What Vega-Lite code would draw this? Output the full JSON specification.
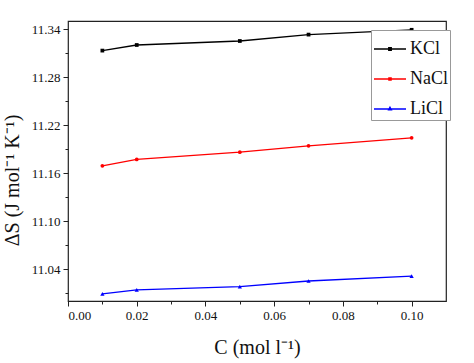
{
  "$schema": "https://vega.github.io/schema/vega-lite/v6.json",
  "width": 378,
  "height": 280,
  "autosize": {"type": "none"},
  "padding": {"left": 68, "top": 21, "right": 28, "bottom": 62},
  "background": "white",
  "config": {
    "font": "Liberation Serif",
    "view": {"stroke": "#222", "strokeWidth": 1.2},
    "axis": {
      "grid": false,
      "domain": false,
      "tickColor": "#222"
    }
  },
  "data": {
    "values": [
      {"salt": "KCl", "C": 0.01, "dS": 11.313},
      {"salt": "KCl", "C": 0.02, "dS": 11.320},
      {"salt": "KCl", "C": 0.05, "dS": 11.325},
      {"salt": "KCl", "C": 0.07, "dS": 11.333},
      {"salt": "KCl", "C": 0.10, "dS": 11.339},
      {"salt": "NaCl", "C": 0.01, "dS": 11.169},
      {"salt": "NaCl", "C": 0.02, "dS": 11.177},
      {"salt": "NaCl", "C": 0.05, "dS": 11.186},
      {"salt": "NaCl", "C": 0.07, "dS": 11.194},
      {"salt": "NaCl", "C": 0.10, "dS": 11.204},
      {"salt": "LiCl", "C": 0.01, "dS": 11.009},
      {"salt": "LiCl", "C": 0.02, "dS": 11.014},
      {"salt": "LiCl", "C": 0.05, "dS": 11.018},
      {"salt": "LiCl", "C": 0.07, "dS": 11.025},
      {"salt": "LiCl", "C": 0.10, "dS": 11.031}
    ]
  },
  "encoding": {
    "x": {
      "field": "C",
      "type": "quantitative",
      "scale": {"domain": [0, 0.11], "nice": false, "zero": false},
      "axis": {
        "title": "C (mol l⁻¹)",
        "values": [0, 0.01, 0.02, 0.03, 0.04, 0.05, 0.06, 0.07, 0.08, 0.09, 0.1],
        "labelExpr": "round(datum.value*100) % 2 == 0 ? format(datum.value, '.2f') : ''",
        "tickSize": {"condition": {"test": "round(datum.value*100) % 2 == 0", "value": 5}, "value": 3},
        "labelFont": "Liberation Serif",
        "titleFont": "Liberation Serif",
        "labelFontSize": 13,
        "labelColor": "#111",
        "titleFontWeight": "normal",
        "titleFontSize": 20,
        "titleColor": "#111",
        "labelPadding": 3,
        "titlePadding": 15
      }
    },
    "y": {
      "field": "dS",
      "type": "quantitative",
      "scale": {"domain": [11.0, 11.35], "nice": false, "zero": false},
      "axis": {
        "title": "ΔS (J mol⁻¹ K⁻¹)",
        "values": [11.01, 11.04, 11.07, 11.10, 11.13, 11.16, 11.19, 11.22, 11.25, 11.28, 11.31, 11.34],
        "labelExpr": "round(datum.value*100) % 6 == 0 ? format(datum.value, '.2f') : ''",
        "tickSize": {"condition": {"test": "round(datum.value*100) % 6 == 0", "value": 5}, "value": 3},
        "labelFont": "Liberation Serif",
        "titleFont": "Liberation Serif",
        "labelFontSize": 13,
        "labelColor": "#111",
        "titleFontWeight": "normal",
        "titleFontSize": 20,
        "titleColor": "#111",
        "titleY": 159,
        "labelPadding": 3,
        "titlePadding": 9
      }
    },
    "color": {
      "field": "salt",
      "type": "nominal",
      "scale": {"domain": ["KCl", "NaCl", "LiCl"], "range": ["#000000", "#ff0000", "#0000ff"]}
    }
  },
  "layer": [
    {
      "mark": {"type": "line", "strokeWidth": 1.3},
      "encoding": {
        "color": {
          "field": "salt",
          "type": "nominal",
          "scale": {"domain": ["KCl", "NaCl", "LiCl"], "range": ["#000000", "#ff0000", "#0000ff"]},
          "legend": {
            "orient": "none",
            "legendX": 303,
            "legendY": 9,
            "title": null,
            "strokeColor": "#999",
            "fillColor": "white",
            "padding": 2,
            "labelFont": "Liberation Serif",
            "labelFontSize": 18,
            "labelColor": "#111",
            "symbolSize": 1024,
            "symbolStrokeWidth": 1.3,
            "rowPadding": 4,
            "labelOffset": 3,
            "encode": {
              "symbols": {
                "update": {
                  "shape": {"signal": "datum.label == 'KCl' ? 'M-1,0H1M-0.08,-0.08H0.08V0.08H-0.08Z' : datum.label == 'NaCl' ? 'M-1,0H1M-0.07,-0.07H0.07V0.07H-0.07Z' : 'M-1,0H1M0,-0.11L0.09,0.06H-0.09Z'"},
                  "fill": {"signal": "scale('color', datum.value)"}
                }
              }
            }
          }
        }
      }
    },
    {
      "transform": [{"filter": "datum.salt == 'KCl'"}],
      "mark": {"type": "point", "filled": true, "opacity": 1, "shape": "square", "size": 14}
    },
    {
      "transform": [{"filter": "datum.salt == 'NaCl'"}],
      "mark": {"type": "point", "filled": true, "opacity": 1, "shape": "circle", "size": 14}
    },
    {
      "transform": [{"filter": "datum.salt == 'LiCl'"}],
      "mark": {"type": "point", "filled": true, "opacity": 1, "shape": "triangle-up", "size": 18}
    }
  ]
}
